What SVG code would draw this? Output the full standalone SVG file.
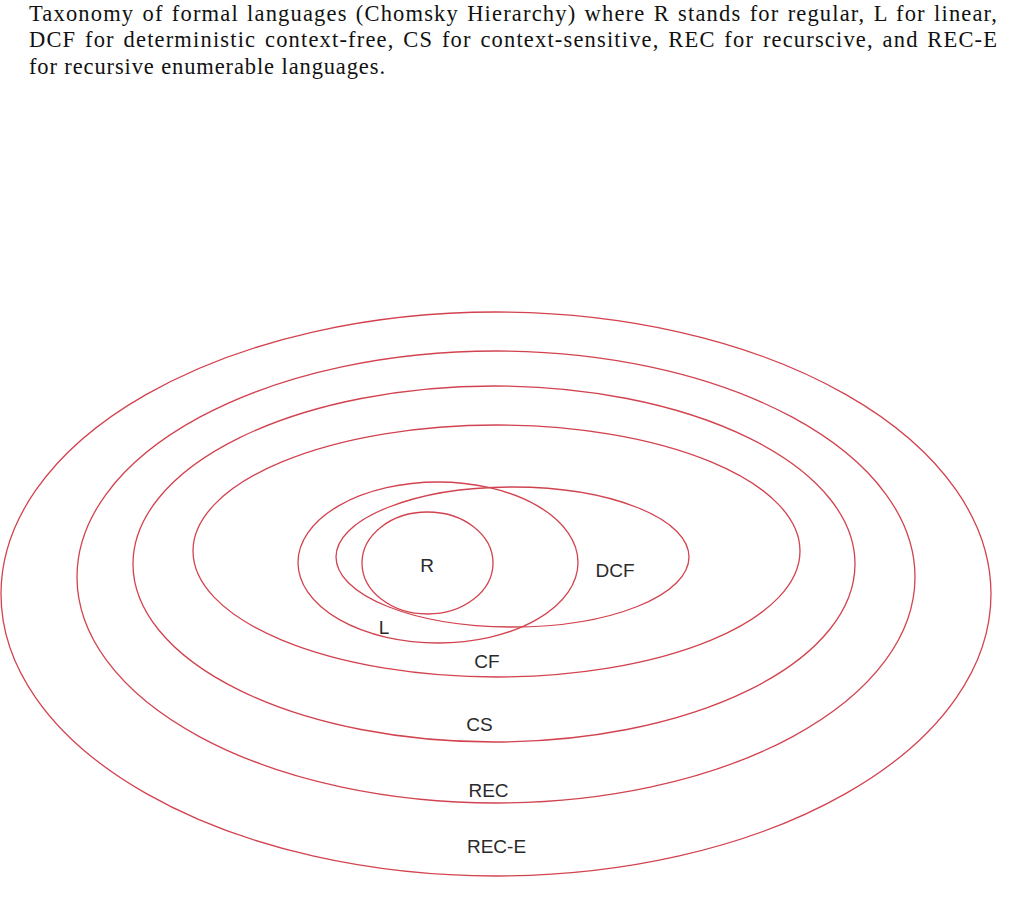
<svg xmlns="http://www.w3.org/2000/svg" width="1024" height="898" viewBox="0 0 1024 898">
<style>
.set{fill:none;stroke:#d2434f;stroke-width:1.3}
.lbl{font-family:"Liberation Sans",Arial,sans-serif;font-size:19px;fill:#2a2a2a;text-anchor:middle}
.cap{font-family:"Liberation Serif","Times New Roman",serif;font-size:22.5px;fill:#111}
</style>
<rect width="1024" height="898" fill="#fff"/>
<g id="caption">
<text class="cap" x="29" y="20.5" word-spacing="1.5" textLength="968" lengthAdjust="spacing">Taxonomy of formal languages (Chomsky Hierarchy) where R stands for regular, L for linear,</text>
<text class="cap" x="29" y="47" word-spacing="2" textLength="968" lengthAdjust="spacing">DCF for deterministic context-free, CS for context-sensitive, REC for recurscive, and REC-E</text>
<text class="cap" x="29" y="73.5" word-spacing="0" textLength="356" lengthAdjust="spacing">for recursive enumerable languages.</text>
</g>
<g id="REC-E"><ellipse class="set" cx="496" cy="594" rx="495" ry="282"/><text class="lbl" x="496.5" y="853">REC-E</text></g>
<g id="REC"><ellipse class="set" cx="496" cy="577" rx="419" ry="226"/><text class="lbl" x="488.5" y="797">REC</text></g>
<g id="CS"><ellipse class="set" cx="494" cy="564" rx="361" ry="178"/><text class="lbl" x="479.5" y="731">CS</text></g>
<g id="CF"><ellipse class="set" cx="496.5" cy="551" rx="303.5" ry="126"/><text class="lbl" x="487" y="668">CF</text></g>
<g id="L"><ellipse class="set" cx="438" cy="562.5" rx="140" ry="80.5"/><text class="lbl" x="384" y="634">L</text></g>
<g id="DCF"><ellipse class="set" cx="512.5" cy="557" rx="176.5" ry="70"/><text class="lbl" x="615" y="577">DCF</text></g>
<g id="R"><ellipse class="set" cx="427.5" cy="563" rx="65.5" ry="51"/><text class="lbl" x="427" y="572">R</text></g>
<g id="connectors"/>
</svg>
